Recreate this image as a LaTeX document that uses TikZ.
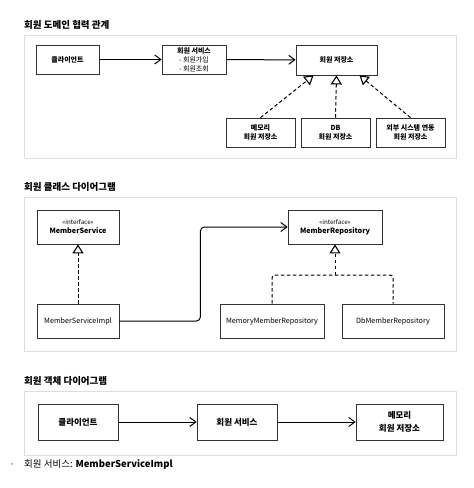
\documentclass[tikz,border=0pt]{standalone}
\usepackage{fontspec}
\setmainfont{Noto Sans CJK KR}
\usepackage{tikz}
\usetikzlibrary{arrows.meta, positioning}
\tikzset{every node/.append style={align=center}}
\usepackage{xcolor}
\definecolor{panelgray}{RGB}{222,222,222}
\definecolor{boxline}{RGB}{50,50,50}
\definecolor{bulletpink}{RGB}{214,110,130}

\tikzset{
  panel/.style={draw=panelgray, line width=1pt},
  title/.style={anchor=west, inner sep=0pt, font=\bfseries\fontsize{9.5}{11}\selectfont},
  box/.style={draw=boxline, line width=0.8pt, inner sep=1pt,
              font=\bfseries\fontsize{7}{9}\selectfont},
  classbox/.style={box, minimum height=34pt, font=\mdseries\fontsize{7.2}{9}\selectfont},
  objbox/.style={box, minimum width=80pt, minimum height=36pt,
                 font=\bfseries\fontsize{8.5}{13}\selectfont},
  assoc/.style={line width=1pt, -{Straight Barb[length=6pt, width=9pt]}},
  dashline/.style={line width=1pt, dash pattern=on 3.5pt off 2.5pt},
  realize/.style={dashline, -{Triangle[open, length=9pt, width=11pt, line width=1.1pt, fill=white]}},
}

\begin{document}
\begin{tikzpicture}[x=1pt,y=-1pt]
\useasboundingbox (0,0) rectangle (474,488);

% ── 회원 도메인 협력 관계 ──────────────────────────────────────────────────────
\node[title] (t1) at (24,25) {회원 도메인 협력 관계};
\draw[panel] (24,35) rectangle (456,158);

\node[box, minimum width=63pt, minimum height=29pt] (cli) at (67.5,59.5) {클라이언트};
\node[box, minimum width=64pt, minimum height=29pt] (svc) at (194,59.5)
      {회원 서비스\\{\mdseries - 회원가입}\\{\mdseries - 회원조회}};
\node[box, minimum width=81pt, minimum height=30pt] (repo) at (336.5,60) {회원 저장소};
\node[box, minimum width=69pt, minimum height=29pt] (mem) at (260.5,132.5) {메모리\\회원 저장소};
\node[box, minimum width=69pt, minimum height=29pt] (db) at (335.5,132.5) {DB\\회원 저장소};
\node[box, minimum width=69pt, minimum height=29pt] (ext) at (410.5,132.5) {외부 시스템 연동\\회원 저장소};

\draw[assoc] (cli) -- (svc);
\draw[assoc] (svc) -- (repo);
\draw[realize] (mem.north) -- ([xshift=-23pt]repo.south);
\draw[realize] (db.north) -- (repo.south);
\draw[realize] (ext.north) -- ([xshift=23pt]repo.south);

% ── 회원 클래스 다이어그램 ─────────────────────────────────────────────────────
\node[title] (t2) at (24,187) {회원 클래스 다이어그램};
\draw[panel] (24,197) rectangle (456,351);

\node[classbox, minimum width=82pt] (msvc) at (78,227)
      {{\fontsize{6.2}{8}\selectfont «interface»}\\\textbf{MemberService}};
\node[classbox, minimum width=94pt] (mrepo) at (335,227)
      {{\fontsize{6.2}{8}\selectfont «interface»}\\\textbf{MemberRepository}};
\node[classbox, minimum width=82pt] (impl) at (78,321) {MemberServiceImpl};
\node[classbox, minimum width=104pt] (memrepo) at (272,321) {MemoryMemberRepository};
\node[classbox, minimum width=102pt] (dbrepo) at (393,321) {DbMemberRepository};

\draw[assoc, rounded corners=4pt] (impl.east) -- ++(81,0) |- (mrepo.west);
\draw[realize] (impl.north) -- (msvc.south);
\coordinate (join) at (335,275);
\draw[dashline, rounded corners=3pt]
     (memrepo.north) |- (join) -| (dbrepo.north);
\draw[realize] (join) -- (mrepo.south);

% ── 회원 객체 다이어그램 ───────────────────────────────────────────────────────
\node[title] (t3) at (24,381) {회원 객체 다이어그램};
\draw[panel] (24,391) rectangle (456,455);

\node[objbox] (cli2) at (78,422) {클라이언트};
\node[objbox] (svc2) at (237,422) {회원 서비스};
\node[objbox, minimum width=87pt] (mem2) at (399.5,422) {메모리\\회원 저장소};

\draw[assoc] (cli2) -- (svc2);
\draw[assoc] (svc2) -- (mem2);

% note below
\node[text=bulletpink, font=\fontsize{7}{9}\selectfont] (dot) at (12,465) {•};
\node[anchor=west, inner sep=0pt, font=\fontsize{9.5}{11}\selectfont] (note) at (24,465)
      {회원 서비스: \textbf{MemberServiceImpl}};

\end{tikzpicture}
\end{document}
